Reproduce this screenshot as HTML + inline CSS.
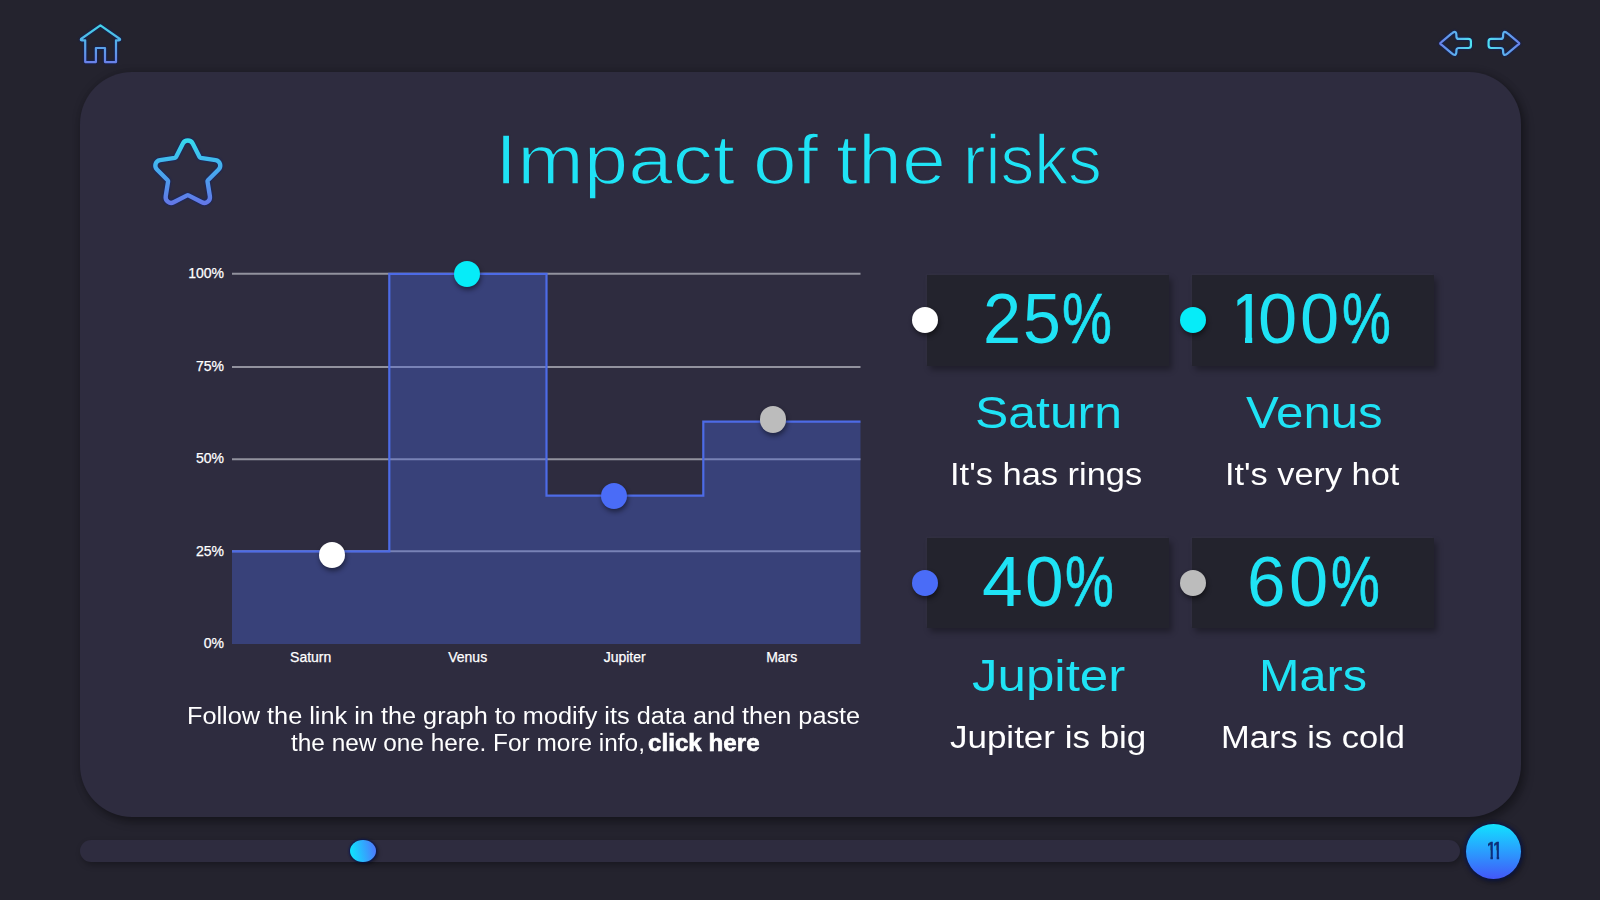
<!DOCTYPE html>
<html lang="en">
<head>
<meta charset="utf-8">
<title>Impact of the risks</title>
<style>
  html, body { margin: 0; padding: 0; }
  body {
    width: 1600px; height: 900px; overflow: hidden; position: relative;
    background: #24232e;
    font-family: "Liberation Sans", sans-serif;
    color: #ffffff;
  }
  .abs { position: absolute; }
  .card {
    position: absolute; left: 79.5px; top: 72px; width: 1441px; height: 744.5px;
    background: #2e2c3f; border-radius: 52px;
    box-shadow: 4px 5px 10px rgba(0,0,0,0.33), 0 0 8px rgba(0,0,0,0.18);
  }
  .t { position: absolute; white-space: nowrap; line-height: 1; transform-origin: 0 0; }
  .cy { color: #1fe3f5; }
  .title { -webkit-text-stroke: 1.5px #2e2c3f; }
  .box {
    position: absolute; width: 242px; height: 90.5px; background: #23232d;
    box-shadow: 3px 4px 6px rgba(0,0,0,0.32), -1px -1px 3px rgba(255,255,255,0.03);
  }
  .num { position: absolute; left: 0; top: 0; font-size: 70px; line-height: 1; color: #1fe3f5; }
  .g { position: absolute; display: block; white-space: nowrap; line-height: 1; transform-origin: 0 0; }
  .one { clip-path: polygon(9.5px 0, 24.3px 0, 24.3px 70px, 17.1px 70px, 17.1px 30px, 9.5px 30px); }
  .dot {
    position: absolute; width: 26.4px; height: 26.4px; border-radius: 50%;
    box-shadow: 1px 3px 5px rgba(0,0,0,0.45);
  }
  .bar {
    position: absolute; left: 80px; top: 840px; width: 1380px; height: 22px; border-radius: 11px;
    background: #2e2c3f; box-shadow: 2px 3px 6px rgba(0,0,0,0.3);
  }
  .thumb {
    position: absolute; left: 349.8px; top: 839.9px; width: 26.4px; height: 22.4px; border-radius: 50%;
    background: linear-gradient(80deg, #12deff 12%, #4a7efc 90%);
    box-shadow: 0 0 2px 1px rgba(0,20,90,0.8), 2px 2px 4px rgba(0,0,0,0.4);
  }
  .page {
    position: absolute; left: 1465.6px; top: 823.6px; width: 55.4px; height: 55.4px; border-radius: 50%;
    background: linear-gradient(180deg, #12e2ff 0%, #2a9dfe 50%, #4357f8 100%);
    box-shadow: 0 0 4px 1px rgba(0,20,90,0.9), 2px 3px 7px rgba(0,0,0,0.45);
  }
  .pnum { position: absolute; left: 0; top: 0; font-size: 23px; line-height: 1; color: #0c2f78; -webkit-text-stroke: 0.5px #0c2f78; }
  .pone { clip-path: polygon(3.1px 0, 8px 0, 8px 23px, 5.6px 23px, 5.6px 9.9px, 3.1px 9.9px); }
</style>
</head>
<body>

<div class="card"></div>

<!-- nav icons + star -->
<svg class="abs" style="left:0;top:0" width="1600" height="230" viewBox="0 0 1600 230">
  <defs>
    <linearGradient id="gh" gradientUnits="userSpaceOnUse" x1="0" y1="24" x2="0" y2="63">
      <stop offset="0" stop-color="#42d6e6"/><stop offset="1" stop-color="#6a80e8"/>
    </linearGradient>
    <linearGradient id="gs" gradientUnits="userSpaceOnUse" x1="0" y1="138" x2="0" y2="206">
      <stop offset="0" stop-color="#35dcec"/><stop offset="0.5" stop-color="#48a8ee"/><stop offset="1" stop-color="#6574e6"/>
    </linearGradient>
    <linearGradient id="gl" gradientUnits="userSpaceOnUse" x1="1439" y1="0" x2="1472" y2="0">
      <stop offset="0" stop-color="#6a7ee8"/><stop offset="1" stop-color="#4fe3f2"/>
    </linearGradient>
    <linearGradient id="gr" gradientUnits="userSpaceOnUse" x1="1487" y1="0" x2="1520.5" y2="0">
      <stop offset="0" stop-color="#4fe3f2"/><stop offset="1" stop-color="#6a7ee8"/>
    </linearGradient>
    <filter id="glow" x="-20%" y="-20%" width="140%" height="140%" color-interpolation-filters="sRGB">
      <feDropShadow dx="0" dy="0" stdDeviation="1.3" flood-color="#03207c" flood-opacity="0.95"/>
    </filter>
  </defs>
  <!-- home -->
  <path filter="url(#glow)" d="M100.4 25.3 L119.9 39.0 Q120.6 40.3 119 40.3 L116 40.3 L116 62.1 L105 62.1 L105 48 L95.9 48 L95.9 62.1 L85.2 62.1 L85.2 40.3 L82 40.3 Q80.4 40.3 81.0 39.0 Z"
        fill="none" stroke="url(#gh)" stroke-width="2.2" stroke-linejoin="round" stroke-linecap="round"/>
  <!-- star -->
  <path filter="url(#glow)" d="M182.90 143.55 A5.5 5.5 0 0 1 192.70 143.55 L199.56 157.05 A1.5 1.5 0 0 0 200.67 157.85 L215.62 160.20 A5.5 5.5 0 0 1 218.65 169.53 L207.93 180.22 A1.5 1.5 0 0 0 207.51 181.52 L209.90 196.47 A5.5 5.5 0 0 1 201.96 202.24 L188.48 195.35 A1.5 1.5 0 0 0 187.12 195.35 L173.64 202.24 A5.5 5.5 0 0 1 165.70 196.47 L168.09 181.52 A1.5 1.5 0 0 0 167.67 180.22 L156.95 169.53 A5.5 5.5 0 0 1 159.98 160.20 L174.93 157.85 A1.5 1.5 0 0 0 176.04 157.05 Z"
        fill="none" stroke="url(#gs)" stroke-width="4.4" stroke-linejoin="round"/>
  <!-- arrows -->
  <path filter="url(#glow)" d="M1441.4 42.1 L1451.5 33.7 Q1456.4 29.3 1456.4 35.5 L1456.4 36.4 Q1456.4 38.9 1458.9 38.9 L1468.4 38.9 Q1470.9 38.9 1470.9 41.4 L1470.9 45.5 Q1470.9 48.0 1468.4 48.0 L1458.9 48.0 Q1456.4 48.0 1456.4 50.5 L1456.4 51.3 Q1456.4 57.5 1451.5 53.1 L1441.4 44.7 Q1439.0 43.4 1441.4 42.1 Z" fill="none" stroke="url(#gl)" stroke-width="2.2" stroke-linejoin="round"/>
  <path filter="url(#glow)" d="M1518.1 42.1 L1508.0 33.7 Q1503.1 29.3 1503.1 35.5 L1503.1 36.4 Q1503.1 38.9 1500.6 38.9 L1491.1 38.9 Q1488.6 38.9 1488.6 41.4 L1488.6 45.5 Q1488.6 48.0 1491.1 48.0 L1500.6 48.0 Q1503.1 48.0 1503.1 50.5 L1503.1 51.3 Q1503.1 57.5 1508.0 53.1 L1518.1 44.7 Q1520.5 43.4 1518.1 42.1 Z" fill="none" stroke="url(#gr)" stroke-width="2.2" stroke-linejoin="round"/>
</svg>

<div class="cy title"><div class="t " style="left:495.07px;top:124.64px;font-size:70.6px;transform:scaleX(1.1324);">Impact</div> <div class="t " style="left:752.56px;top:124.64px;font-size:70.6px;transform:scaleX(1.1111);">of</div> <div class="t " style="left:835.76px;top:124.64px;font-size:70.6px;transform:scaleX(1.1196);">the</div> <div class="t " style="left:962.82px;top:124.64px;font-size:70.6px;transform:scaleX(0.9562);">risks</div></div>

<!-- chart -->
<svg class="abs" style="left:170px;top:250px" width="720" height="430" viewBox="170 250 720 430"
     font-family="Liberation Sans, sans-serif" font-size="14" fill="#ffffff">
  <g stroke="#92929e" stroke-width="2">
    <line x1="232" y1="273.8" x2="860.5" y2="273.8"/>
    <line x1="232" y1="366.9" x2="860.5" y2="366.9"/>
    <line x1="232" y1="459.2" x2="860.5" y2="459.2"/>
    <line x1="232" y1="551.3" x2="860.5" y2="551.3"/>
  </g>
  <path d="M232 551.3 H389.3 V273.8 H546.5 V495.7 H703.3 V421.7 H860.5 V644 H232 Z" fill="#4a66e0" fill-opacity="0.36"/>
  <path d="M232 551.3 H389.3 V273.8 H546.5 V495.7 H703.3 V421.7 H860.5" fill="none" stroke="#4d6be6" stroke-width="2.2"/>
  <g text-anchor="end" stroke="#ffffff" stroke-width="0.25">
    <text x="224" y="277.9">100%</text>
    <text x="224" y="370.5">75%</text>
    <text x="224" y="463.0">50%</text>
    <text x="224" y="555.5">25%</text>
    <text x="224" y="648.0">0%</text>
  </g>
  <g text-anchor="middle" stroke="#ffffff" stroke-width="0.25">
    <text x="310.7" y="662.1">Saturn</text>
    <text x="467.7" y="662.1">Venus</text>
    <text x="624.7" y="662.1">Jupiter</text>
    <text x="781.7" y="662.1">Mars</text>
  </g>
</svg>
<div class="dot" style="left:318.7px;top:541.6px;background:#ffffff"></div>
<div class="dot" style="left:453.6px;top:260.6px;background:#06ecf8"></div>
<div class="dot" style="left:600.6px;top:483.0px;background:#4a6cf7"></div>
<div class="dot" style="left:759.8px;top:406.3px;background:#bcbcbc"></div>

<div class="t " style="left:187.0px;top:704.83px;font-size:23px;transform:scaleX(1.0992);">Follow the link in the graph to modify its data and then paste</div>
<div><div class="t " style="left:290.5px;top:731.53px;font-size:23px;transform:scaleX(1.0608);">the new one here. For more info,</div> <div class="t " style="left:648.15px;top:731.53px;font-size:23px;font-weight:700;transform:scaleX(1.0519);-webkit-text-stroke:0.6px #fff;">click here</div></div>

<!-- stats -->
<div class="box" style="left:926.8px;top:275px"></div>
<div class="box" style="left:1192px;top:275px"></div>
<div class="box" style="left:926.8px;top:537.6px"></div>
<div class="box" style="left:1192px;top:537.6px"></div>

<div class="dot" style="left:912px;top:306.7px;background:#ffffff"></div>
<div class="dot" style="left:1179.5px;top:306.7px;background:#06ecf8"></div>
<div class="dot" style="left:912px;top:569.5px;background:#4a6cf7"></div>
<div class="dot" style="left:1179.5px;top:569.5px;background:#bcbcbc"></div>

<div class="num"><span class="g" style="left:982.66px;top:284.05px;transform:scaleX(0.9788)">2</span><span class="g" style="left:1022.88px;top:284.05px;transform:scaleX(0.9727)">5</span><span class="g" style="left:1062.4px;top:284.05px;-webkit-text-stroke:0.7px currentColor;transform:scaleX(0.8017)">%</span></div>
<div class="num"><span class="g one" style="left:1227.9px;top:284.05px">1</span><span class="g" style="left:1257.98px;top:284.05px;transform:scaleX(1.0061)">0</span><span class="g" style="left:1300.18px;top:284.05px;transform:scaleX(1.0061)">0</span><span class="g" style="left:1341.63px;top:284.05px;-webkit-text-stroke:0.7px currentColor;transform:scaleX(0.7845)">%</span></div>
<div class="num"><span class="g" style="left:981.95px;top:547.25px;transform:scaleX(1.0472)">4</span><span class="g" style="left:1025.03px;top:547.25px;transform:scaleX(0.9909)">0</span><span class="g" style="left:1065.33px;top:547.25px;-webkit-text-stroke:0.7px currentColor;transform:scaleX(0.7845)">%</span></div>
<div class="num"><span class="g" style="left:1247.44px;top:547.25px;transform:scaleX(0.9879)">6</span><span class="g" style="left:1288.98px;top:547.25px;transform:scaleX(1.0061)">0</span><span class="g" style="left:1330.93px;top:547.25px;-webkit-text-stroke:0.7px currentColor;transform:scaleX(0.7845)">%</span></div>

<div class="t cy" style="left:974.68px;top:389.61px;font-size:45px;transform:scaleX(1.1086);">Saturn</div>
<div class="t cy" style="left:1245.6px;top:389.61px;font-size:45px;transform:scaleX(1.0927);">Venus</div>
<div class="t cy" style="left:971.57px;top:652.71px;font-size:45px;transform:scaleX(1.1346);">Jupiter</div>
<div class="t cy" style="left:1258.86px;top:652.71px;font-size:45px;transform:scaleX(1.0792);">Mars</div>

<div class="t " style="left:950.42px;top:458.96px;font-size:31px;transform:scaleX(1.1109);">It's has rings</div>
<div class="t " style="left:1224.78px;top:458.96px;font-size:31px;transform:scaleX(1.1065);">It's very hot</div>
<div class="t " style="left:950.3px;top:721.96px;font-size:31px;transform:scaleX(1.1279);">Jupiter is big</div>
<div class="t " style="left:1221.38px;top:721.96px;font-size:31px;transform:scaleX(1.1123);">Mars is cold</div>

<!-- progress -->
<div class="bar"></div>
<div class="thumb"></div>
<div class="page"></div>
<div class="pnum"><span class="g pone" style="left:1484.9px;top:840.3px">1</span><span class="g pone" style="left:1491.1px;top:840.3px">1</span></div>

</body>
</html>
